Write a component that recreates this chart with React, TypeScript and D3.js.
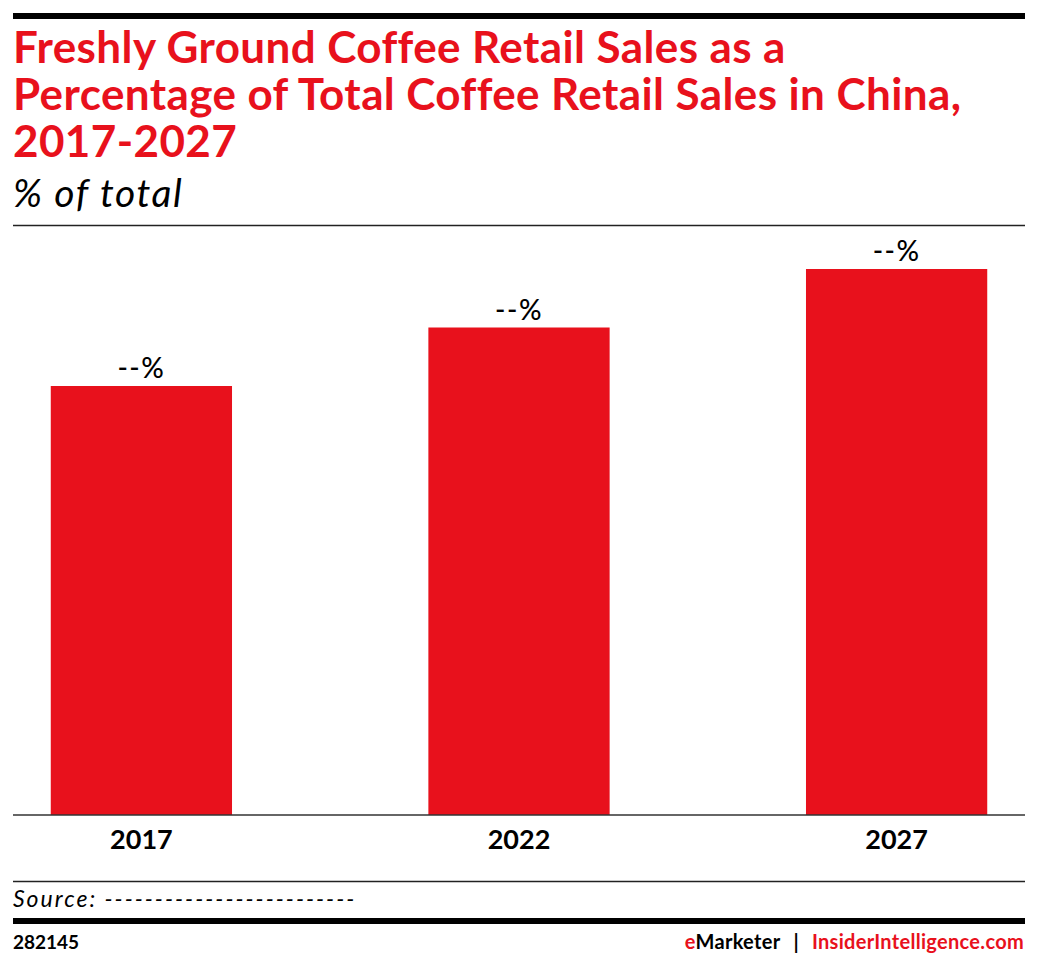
import * as d3 from 'd3';

const YEARS = ['2017', '2022', '2027'];
const SHARE = [22, 25, 28];
const VALUE_LABELS = ['--%', '--%', '--%'];
const TITLE_LINES = [
  'Freshly Ground Coffee Retail Sales as a',
  'Percentage of Total Coffee Retail Sales in China,',
  '2017-2027',
];

const W = 1038;
const H = 967;
const RED = '#e8111c';
const FONT = 'Lato, "Open Sans", sans-serif';

export default function App() {
  const left = 13;
  const right = 1025;
  const baseline = 815;
  const plotTop = 269;

  const x = d3.scaleBand<string>()
    .domain(YEARS)
    .range([left, right])
    .paddingInner(0.52)
    .paddingOuter(0.1);

  const y = d3.scaleLinear()
    .domain([0, d3.max(SHARE) as number])
    .range([baseline, plotTop]);

  return (
    <svg
      width={W}
      height={H}
      style={{ position: 'absolute', left: 0, top: 0, background: '#fff' }}
      fontFamily={FONT}
    >
      <rect x={left} y={13} width={right - left} height={6} fill="#000" />

      {TITLE_LINES.map((t, i) => (
        <text key={i} x={left} y={63 + i * 47} fill={RED} fontSize={44} fontWeight={700} letterSpacing={0.4}>
          {t}
        </text>
      ))}
      <text x={left} y={207} fontSize={39} fontStyle="italic" fill="#000" letterSpacing={1.6}>% of total</text>
      <line x1={left} x2={right} y1={225.5} y2={225.5} stroke="#222" strokeWidth={1.5} />

      {YEARS.map((yr, i) => {
        const bx = x(yr) as number;
        const by = y(SHARE[i]);
        return (
          <g key={yr}>
            <rect x={bx} y={by} width={x.bandwidth()} height={baseline - by} fill={RED} />
            <text
              x={bx + x.bandwidth() / 2}
              y={by - 8}
              textAnchor="middle"
              fontSize={28}
              fontWeight={500}
              letterSpacing={1.5}
              fill="#000"
            >
              {VALUE_LABELS[i]}
            </text>
            <text
              x={bx + x.bandwidth() / 2}
              y={849}
              textAnchor="middle"
              fontSize={27}
              fontWeight={700}
              fill="#000"
            >
              {yr}
            </text>
          </g>
        );
      })}
      <line x1={left} x2={right} y1={baseline} y2={baseline} stroke="#333" strokeWidth={1.5} />

      <line x1={left} x2={right} y1={881.5} y2={881.5} stroke="#222" strokeWidth={1.5} />
      <text x={left} y={907} fontSize={23} fontStyle="italic" fill="#000" letterSpacing={2}>
        Source: -------------------------
      </text>
      <rect x={left} y={918} width={right - left} height={6} fill="#000" />
      <text x={left} y={949} fontSize={19} fontWeight={700} fill="#000">282145</text>
      <text x={right - 1} y={949} textAnchor="end" fontSize={20} fontWeight={700} letterSpacing={0.3}>
        <tspan fill={RED}>e</tspan>
        <tspan fill="#000">Marketer</tspan>
        <tspan fill="#000" dx={13}>|</tspan>
        <tspan fill={RED} dx={13}>InsiderIntelligence.com</tspan>
      </text>
    </svg>
  );
}
